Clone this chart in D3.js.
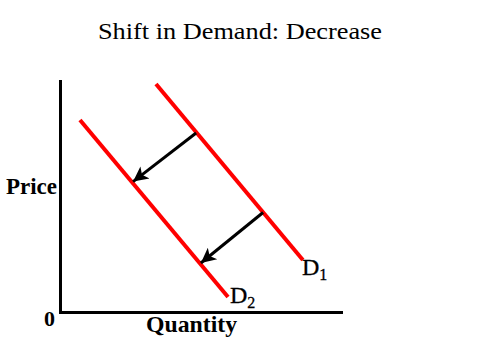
<!DOCTYPE html>
<html><head><meta charset="utf-8">
<script src="https://cdn.jsdelivr.net/npm/d3@7"></script>
<style>body{margin:0;background:#fff}svg{display:block}</style>
</head><body>
<script>
const title = "Shift in Demand: Decrease";
const xLabel = "Quantity";
const yLabel = "Price";
const originLabel = "0";
// demand curves: [quantity, price] endpoints
const demand1 = [[3.38, 9.83], [8.58, 2.26]];
const demand2 = [[0.69, 8.28], [5.93, 0.67]];
const curveNames = ["1", "2"];
// shift arrows: from point on D1 to point on D2
const shiftFrom = [[4.80, 7.72], [7.17, 4.30]];
const shiftTo = [[2.57, 5.63], [4.97, 2.13]];

const W = 480, H = 360;
const svg = d3.select("body").append("svg").attr("width", W).attr("height", H);
const x = d3.scaleLinear().domain([0, 10]).range([60.5, 343]);
const y = d3.scaleLinear().domain([0, 10]).range([312.5, 80]);

svg.append("defs").append("marker")
  .attr("id", "ah").attr("viewBox", "0 0 10 10").attr("refX", 10).attr("refY", 5)
  .attr("markerWidth", 6).attr("markerHeight", 5).attr("markerUnits", "strokeWidth")
  .attr("orient", "auto")
  .append("path").attr("d", "M0,0L10,5L0,10L2.5,5Z").attr("fill", "#000");

// axes
const gx = svg.append("g").attr("transform", `translate(0,${y(0)})`)
  .call(d3.axisBottom(x).tickValues([]).tickSizeOuter(0));
const gy = svg.append("g").attr("transform", `translate(${x(0)},0)`)
  .call(d3.axisLeft(y).tickValues([]).tickSizeOuter(0));
[gx, gy].forEach(g => g.select(".domain").attr("stroke", "#000").attr("stroke-width", 3));
gx.select(".domain").attr("d", `M${x(0) - 1.5},0H${x(10)}`);
gy.select(".domain").attr("d", `M0,${y(10)}V${y(0) + 1.5}`);

const line = d3.line().x(d => x(d[0])).y(d => y(d[1]));
[demand1, demand2].forEach(d => {
  svg.append("path").attr("d", line(d)).attr("fill", "none")
    .attr("stroke", "#ff0000").attr("stroke-width", 4);
});

shiftFrom.forEach((f, i) => {
  svg.append("path").attr("d", line([f, shiftTo[i]]))
    .attr("stroke", "#000").attr("stroke-width", 3).attr("fill", "none")
    .attr("marker-end", "url(#ah)");
});

// labels
svg.append("text").attr("x", 240).attr("y", 39).attr("text-anchor", "middle")
  .attr("font-family", "Liberation Serif, serif").attr("font-size", 23)
  .attr("textLength", 284).attr("lengthAdjust", "spacingAndGlyphs").text(title);
svg.append("text").attr("x", 6).attr("y", 194)
  .attr("font-family", "Liberation Serif, serif").attr("font-weight", "bold").attr("font-size", 24)
  .attr("textLength", 51).attr("lengthAdjust", "spacingAndGlyphs").text(yLabel);
svg.append("text").attr("x", 146).attr("y", 332)
  .attr("font-family", "Liberation Serif, serif").attr("font-weight", "bold").attr("font-size", 24)
  .attr("textLength", 91).attr("lengthAdjust", "spacingAndGlyphs").text(xLabel);
svg.append("text").attr("x", 44).attr("y", 326)
  .attr("font-family", "Liberation Serif, serif").attr("font-weight", "bold").attr("font-size", 22)
  .text(originLabel);

[demand1, demand2].forEach((d, i) => {
  const end = d[1];
  const t = svg.append("text").attr("x", x(end[0]) + (i === 0 ? -1 : 2)).attr("y", y(end[1]) + (i === 0 ? 15 : 6))
    .attr("font-family", "Liberation Serif, serif").attr("font-size", 24)
    .attr("stroke", "#000").attr("stroke-width", 0.3);
  t.append("tspan").text("D");
  t.append("tspan").attr("font-size", 16).attr("dy", 5).text(curveNames[i]);
});
</script>
</body></html>
